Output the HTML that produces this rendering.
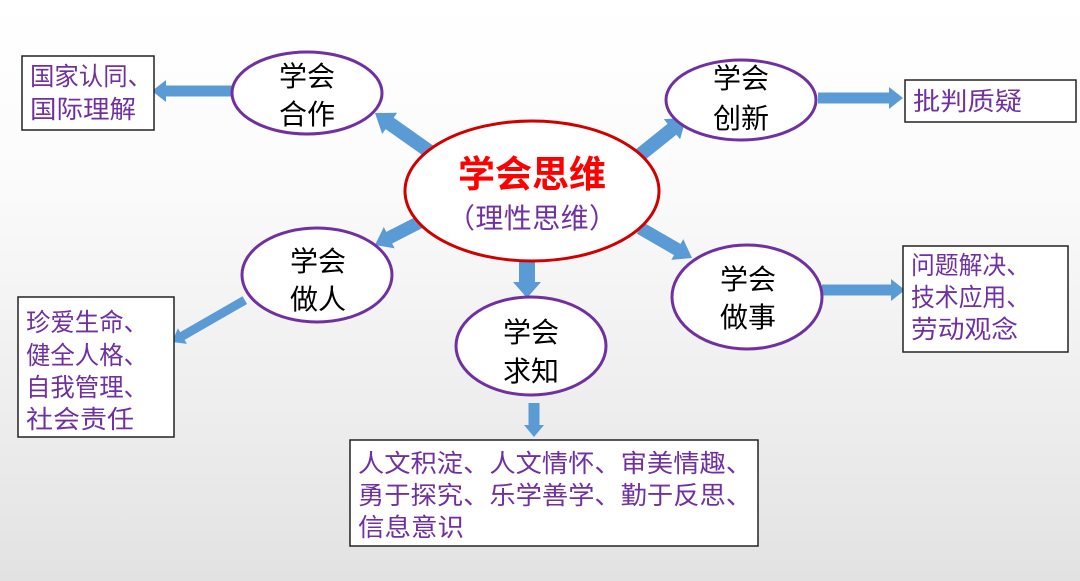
<!DOCTYPE html>
<html><head><meta charset="utf-8"><style>
html,body{margin:0;padding:0;}
body{width:1080px;height:581px;overflow:hidden;background:linear-gradient(#ffffff 0%,#fbfbfb 30%,#ececec 75%,#e2e2e2 100%);}
svg{display:block;}
text{font-family:"Liberation Sans","Noto Sans CJK SC",sans-serif;}
.e{font-size:28px;fill:#000;text-anchor:middle;}
.b{font-size:25px;fill:#7030a0;}
</style></head><body>
<svg width="1080" height="581" viewBox="0 0 1080 581" xmlns="http://www.w3.org/2000/svg">
<g fill="#5b9bd5">
<g transform="translate(152,91)"><polygon points="0,0 14,-11 14,-5.5 83,-5.5 83,5.5 14,5.5 14,11"/></g>
<g transform="translate(903,98)"><polygon points="0,0 -14,-11 -14,-5.5 -85,-5.5 -85,5.5 -14,5.5 -14,11"/></g>
<g transform="translate(905,290)"><polygon points="0,0 -14,-11 -14,-5.5 -83,-5.5 -83,5.5 -14,5.5 -14,11"/></g>
<g transform="translate(375,113) rotate(215.3)"><polygon points="0,0 -18,-13 -18,-7 -67,-7 -67,7 -18,7 -18,13"/></g>
<g transform="translate(686,118) rotate(-38.8)"><polygon points="0,0 -18,-13 -18,-7 -59,-7 -59,7 -18,7 -18,13"/></g>
<g transform="translate(375,245) rotate(152.9)"><polygon points="0,0 -16,-12 -16,-6.5 -51,-6.5 -51,6.5 -16,6.5 -16,12"/></g>
<g transform="translate(692,258) rotate(30)"><polygon points="0,0 -17,-12 -17,-6.5 -60,-6.5 -60,6.5 -17,6.5 -17,12"/></g>
<g transform="translate(527,298) rotate(90)"><polygon points="0,0 -16,-14 -16,-8 -36,-8 -36,8 -16,8 -16,14"/></g>
<g transform="translate(172,342) rotate(150.1)"><polygon points="0,0 -12,-9 -12,-4.5 -84,-4.5 -84,4.5 -12,4.5 -12,9"/></g>
<g transform="translate(534,437) rotate(90)"><polygon points="0,0 -12,-10 -12,-5.5 -34,-5.5 -34,5.5 -12,5.5 -12,10"/></g>
</g>
<ellipse cx="532" cy="191" rx="127" ry="70" fill="#fff" stroke="#d00000" stroke-width="3"/>
<g fill="#fff" stroke="#7030a0" stroke-width="3">
<ellipse cx="307" cy="93" rx="75" ry="41"/>
<ellipse cx="741" cy="100" rx="75" ry="40"/>
<ellipse cx="317" cy="275" rx="75" ry="47"/>
<ellipse cx="531" cy="346" rx="75" ry="49"/>
<ellipse cx="747" cy="297" rx="75" ry="52"/>
</g>
<text x="532" y="187" text-anchor="middle" font-size="37" font-weight="bold" fill="#ff0000">学会思维</text>
<text x="532" y="228" text-anchor="middle" font-size="28" fill="#7030a0" textLength="170" lengthAdjust="spacing">（理性思维）</text>
<text class="e" x="307" y="86">学会</text><text class="e" x="307" y="124">合作</text>
<text class="e" x="741" y="88">学会</text><text class="e" x="741" y="128">创新</text>
<text class="e" x="318" y="271">学会</text><text class="e" x="318" y="309">做人</text>
<text class="e" x="531" y="342">学会</text><text class="e" x="531" y="381">求知</text>
<text class="e" x="748" y="289">学会</text><text class="e" x="748" y="327">做事</text>
<g fill="#fff" stroke="#222" stroke-width="1.5">
<rect x="22" y="56" width="132" height="74"/>
<rect x="905" y="80" width="171" height="42"/>
<rect x="903" y="246" width="165" height="106"/>
<rect x="18" y="297" width="156" height="140"/>
<rect x="350" y="440" width="408" height="106"/>
</g>
<text class="b" x="30" y="85" textLength="122" lengthAdjust="spacingAndGlyphs">国家认同、</text>
<text class="b" x="30" y="118" textLength="106" lengthAdjust="spacingAndGlyphs">国际理解</text>
<text class="b" x="913" y="110" textLength="109" lengthAdjust="spacingAndGlyphs">批判质疑</text>
<text class="b" x="911" y="274" textLength="119" lengthAdjust="spacingAndGlyphs">问题解决、</text>
<text class="b" x="911" y="306" textLength="119" lengthAdjust="spacingAndGlyphs">技术应用、</text>
<text class="b" x="911" y="338" textLength="107" lengthAdjust="spacingAndGlyphs">劳动观念</text>
<text class="b" x="26" y="331" textLength="122" lengthAdjust="spacingAndGlyphs">珍爱生命、</text>
<text class="b" x="26" y="364" textLength="122" lengthAdjust="spacingAndGlyphs">健全人格、</text>
<text class="b" x="26" y="396" textLength="122" lengthAdjust="spacingAndGlyphs">自我管理、</text>
<text class="b" x="26" y="428" textLength="108" lengthAdjust="spacingAndGlyphs">社会责任</text>
<text class="b" x="358" y="472" textLength="394" lengthAdjust="spacingAndGlyphs">人文积淀、人文情怀、审美情趣、</text>
<text class="b" x="358" y="504" textLength="394" lengthAdjust="spacingAndGlyphs">勇于探究、乐学善学、勤于反思、</text>
<text class="b" x="358" y="536" textLength="106" lengthAdjust="spacingAndGlyphs">信息意识</text>
</svg>
</body></html>
